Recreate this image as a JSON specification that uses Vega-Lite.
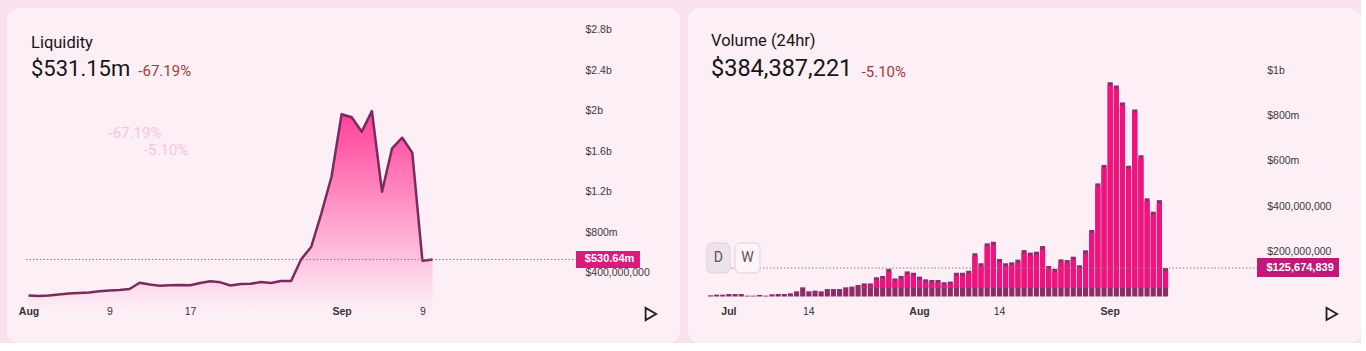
{
  "$schema": "https://vega.github.io/schema/vega-lite/v6.json",
  "background": "#f9e2ee",
  "padding": {"left": 7, "top": 8, "right": 0, "bottom": 0},
  "bounds": "flush",
  "spacing": 8,
  "config": {"view": {"stroke": null}},
  "hconcat": [
    {
      "width": 673,
      "height": 335,
      "view": {"fill": "#fdeff6", "stroke": null, "cornerRadius": 12},
      "title": {"text": "Liquidity", "subtitle": "$531.15m", "anchor": "start", "frame": "group", "dx": 24, "offset": -72,
        "font": "Roboto", "fontSize": 16.5, "fontWeight": "normal", "color": "#161616",
        "subtitleFont": "Roboto", "subtitleFontSize": 22, "subtitleColor": "#161616", "subtitlePadding": 8},
      "data": {"values": [
        {"date": "2024-08-01T00:00", "liquidity": 175000000},
        {"date": "2024-08-02T00:00", "liquidity": 170000000},
        {"date": "2024-08-03T00:00", "liquidity": 175000000},
        {"date": "2024-08-04T00:00", "liquidity": 185000000},
        {"date": "2024-08-05T00:00", "liquidity": 195000000},
        {"date": "2024-08-06T00:00", "liquidity": 200000000},
        {"date": "2024-08-07T00:00", "liquidity": 204000000},
        {"date": "2024-08-08T00:00", "liquidity": 216000000},
        {"date": "2024-08-09T00:00", "liquidity": 224000000},
        {"date": "2024-08-10T00:00", "liquidity": 229000000},
        {"date": "2024-08-11T00:00", "liquidity": 239000000},
        {"date": "2024-08-12T00:00", "liquidity": 301000000},
        {"date": "2024-08-13T00:00", "liquidity": 283000000},
        {"date": "2024-08-14T00:00", "liquidity": 272000000},
        {"date": "2024-08-15T00:00", "liquidity": 276000000},
        {"date": "2024-08-16T00:00", "liquidity": 279000000},
        {"date": "2024-08-17T00:00", "liquidity": 276000000},
        {"date": "2024-08-18T00:00", "liquidity": 298000000},
        {"date": "2024-08-19T00:00", "liquidity": 315000000},
        {"date": "2024-08-20T00:00", "liquidity": 305000000},
        {"date": "2024-08-21T00:00", "liquidity": 274000000},
        {"date": "2024-08-22T00:00", "liquidity": 288000000},
        {"date": "2024-08-23T00:00", "liquidity": 290000000},
        {"date": "2024-08-24T00:00", "liquidity": 308000000},
        {"date": "2024-08-25T00:00", "liquidity": 298000000},
        {"date": "2024-08-26T00:00", "liquidity": 318000000},
        {"date": "2024-08-27T00:00", "liquidity": 318000000},
        {"date": "2024-08-28T00:00", "liquidity": 532000000},
        {"date": "2024-08-29T00:00", "liquidity": 657000000},
        {"date": "2024-08-30T00:00", "liquidity": 987000000},
        {"date": "2024-08-31T00:00", "liquidity": 1348000000},
        {"date": "2024-09-01T00:00", "liquidity": 1965000000},
        {"date": "2024-09-02T00:00", "liquidity": 1935000000},
        {"date": "2024-09-03T00:00", "liquidity": 1793000000},
        {"date": "2024-09-04T00:00", "liquidity": 1997000000},
        {"date": "2024-09-05T00:00", "liquidity": 1200000000},
        {"date": "2024-09-06T00:00", "liquidity": 1629000000},
        {"date": "2024-09-07T00:00", "liquidity": 1733000000},
        {"date": "2024-09-08T00:00", "liquidity": 1585000000},
        {"date": "2024-09-09T00:00", "liquidity": 519000000},
        {"date": "2024-09-10T00:00", "liquidity": 531150000}
      ]},
      "layer": [
        {
          "mark": {"type": "area", "fill": {"gradient": "linear", "x1": 0, "y1": 0, "x2": 0, "y2": 1,
            "stops": [{"offset": 0, "color": "#ff3f98"}, {"offset": 0.55, "color": "#ffa3cd"}, {"offset": 0.93, "color": "#fde6f1"}, {"offset": 1, "color": "#fdeff6"}]}},
          "encoding": {
            "x": {"field": "date", "type": "temporal",
              "scale": {"domain": [{"year": 2024, "month": 8, "date": 1}, {"year": 2024, "month": 9, "date": 10}], "range": [21.5, 425.5], "nice": false},
              "axis": {"title": null, "domain": false, "ticks": false, "grid": false, "labelPadding": 0, "offset": -37, "labelFlush": false, "labelOverlap": false, "zindex": 1,
                "values": [{"year": 2024, "month": 8, "date": 1}, {"year": 2024, "month": 8, "date": 9}, {"year": 2024, "month": 8, "date": 17}, {"year": 2024, "month": 9, "date": 1}, {"year": 2024, "month": 9, "date": 9}],
                "labelExpr": "date(datum.value) == 1 ? timeFormat(datum.value, '%b') : timeFormat(datum.value, '%-d')",
                "labelFontWeight": {"condition": {"test": "date(datum.value) == 1", "value": "bold"}, "value": "normal"},
                "labelFont": "Liberation Sans", "labelFontSize": 10.5, "labelColor": "#333333"}},
            "y": {"field": "liquidity", "type": "quantitative",
              "scale": {"domain": [0, 2800000000], "range": [305.2, 21.7], "nice": false, "zero": false},
              "axis": {"orient": "right", "title": null, "domain": false, "ticks": false, "grid": false, "labelPadding": 0, "offset": -95, "zindex": 1,
                "values": [400000000, 800000000, 1200000000, 1600000000, 2000000000, 2400000000, 2800000000],
                "labelExpr": "datum.value == 400000000 ? '$400,000,000' : datum.value >= 1000000000 ? '$' + format(datum.value / 1000000000, '~g') + 'b' : '$' + format(datum.value / 1000000, '~g') + 'm'",
                "labelFont": "Liberation Sans", "labelFontSize": 10.5, "labelColor": "#3a3a3a", "labelAlign": "left", "labelBaseline": "middle"}},
            "y2": {"datum": 0}
          }
        },
        {
          "mark": {"type": "line", "color": "#7a2b5d", "strokeWidth": 2.5, "strokeJoin": "round"},
          "encoding": {
            "x": {"field": "date", "type": "temporal"},
            "y": {"field": "liquidity", "type": "quantitative"}
          }
        },
        {
          "data": {"values": [{"value": 530640000}]},
          "mark": {"type": "rule", "color": "#8c7c86", "strokeDash": [1.5, 2], "strokeWidth": 1},
          "encoding": {
            "x": {"datum": {"year": 2024, "month": 7, "date": 31, "hours": 18}, "type": "temporal"},
            "x2": {"datum": {"year": 2024, "month": 9, "date": 24, "hours": 5}},
            "y": {"field": "value", "type": "quantitative"}
          }
        },
        {
          "data": {"values": [{"value": 530640000}]},
          "mark": {"type": "rect", "color": "#d81b7d"},
          "encoding": {
            "x": {"datum": {"year": 2024, "month": 9, "date": 24, "hours": 5}, "type": "temporal"},
            "x2": {"datum": {"year": 2024, "month": 9, "date": 30, "hours": 13}},
            "y": {"datum": 614000000, "type": "quantitative"},
            "y2": {"datum": 446000000}
          }
        },
        {
          "data": {"values": [{"label": "$530.64m", "value": 530640000}]},
          "mark": {"type": "text", "color": "#ffffff", "font": "Liberation Sans", "fontSize": 11, "fontWeight": "bold", "align": "left", "baseline": "middle"},
          "encoding": {
            "x": {"datum": {"year": 2024, "month": 9, "date": 25, "hours": 2}, "type": "temporal"},
            "y": {"field": "value", "type": "quantitative"},
            "text": {"field": "label"}
          }
        },
        {
          "data": {"values": [{"label": "-67.19%"}]},
          "mark": {"type": "text", "color": "#a83a33", "font": "Roboto", "fontSize": 15, "align": "left", "baseline": "alphabetic"},
          "encoding": {
            "x": {"datum": {"year": 2024, "month": 8, "date": 11, "hours": 21}, "type": "temporal"},
            "y": {"datum": 2338000000, "type": "quantitative"},
            "text": {"field": "label"}
          }
        },
        {
          "data": {"values": [{"label": "-67.19%"}]},
          "mark": {"type": "text", "color": "#f8c3de", "font": "Roboto", "fontSize": 15, "align": "center", "baseline": "middle"},
          "encoding": {
            "x": {"datum": {"year": 2024, "month": 8, "date": 11, "hours": 13}, "type": "temporal"},
            "y": {"datum": 1780000000, "type": "quantitative"},
            "text": {"field": "label"}
          }
        },
        {
          "data": {"values": [{"label": "-5.10%"}]},
          "mark": {"type": "text", "color": "#f8c3de", "font": "Roboto", "fontSize": 15, "align": "center", "baseline": "middle"},
          "encoding": {
            "x": {"datum": {"year": 2024, "month": 8, "date": 14, "hours": 15}, "type": "temporal"},
            "y": {"datum": 1612000000, "type": "quantitative"},
            "text": {"field": "label"}
          }
        },
        {
          "data": {"values": [{"icon": "play"}]},
          "mark": {"type": "point", "shape": "triangle-right", "filled": false, "color": "#1f1f1f", "strokeWidth": 1.8, "size": 150, "opacity": 1},
          "encoding": {
            "x": {"datum": {"year": 2024, "month": 10, "date": 1, "hours": 15}, "type": "temporal"},
            "y": {"datum": -8000000, "type": "quantitative"}
          }
        }
      ]
    },
    {
      "width": 673,
      "height": 335,
      "view": {"fill": "#fdeff6", "stroke": null, "cornerRadius": 12},
      "title": {"text": "Volume (24hr)", "subtitle": "$384,387,221", "anchor": "start", "frame": "group", "dx": 23, "offset": -72,
        "font": "Roboto", "fontSize": 16.5, "fontWeight": "normal", "color": "#161616",
        "subtitleFont": "Roboto", "subtitleFontSize": 23.5, "subtitleColor": "#161616", "subtitlePadding": 7},
      "data": {"values": [
        {"date": "2024-06-28T00:00", "volume": 5200000},
        {"date": "2024-06-29T00:00", "volume": 8100000},
        {"date": "2024-06-30T00:00", "volume": 8100000},
        {"date": "2024-07-01T00:00", "volume": 11000000},
        {"date": "2024-07-02T00:00", "volume": 11000000},
        {"date": "2024-07-03T00:00", "volume": 11000000},
        {"date": "2024-07-04T00:00", "volume": 3700000},
        {"date": "2024-07-05T00:00", "volume": 3700000},
        {"date": "2024-07-06T00:00", "volume": 6600000},
        {"date": "2024-07-07T00:00", "volume": 3700000},
        {"date": "2024-07-08T00:00", "volume": 9600000},
        {"date": "2024-07-09T00:00", "volume": 11000000},
        {"date": "2024-07-10T00:00", "volume": 11000000},
        {"date": "2024-07-11T00:00", "volume": 14000000},
        {"date": "2024-07-12T00:00", "volume": 22800000},
        {"date": "2024-07-13T00:00", "volume": 40500000},
        {"date": "2024-07-14T00:00", "volume": 22800000},
        {"date": "2024-07-15T00:00", "volume": 25800000},
        {"date": "2024-07-16T00:00", "volume": 22800000},
        {"date": "2024-07-17T00:00", "volume": 33000000},
        {"date": "2024-07-18T00:00", "volume": 33000000},
        {"date": "2024-07-19T00:00", "volume": 33000000},
        {"date": "2024-07-20T00:00", "volume": 40500000},
        {"date": "2024-07-21T00:00", "volume": 43500000},
        {"date": "2024-07-22T00:00", "volume": 50800000},
        {"date": "2024-07-23T00:00", "volume": 58000000},
        {"date": "2024-07-24T00:00", "volume": 58000000},
        {"date": "2024-07-25T00:00", "volume": 85000000},
        {"date": "2024-07-26T00:00", "volume": 91000000},
        {"date": "2024-07-27T00:00", "volume": 122000000},
        {"date": "2024-07-28T00:00", "volume": 80000000},
        {"date": "2024-07-29T00:00", "volume": 91000000},
        {"date": "2024-07-30T00:00", "volume": 111000000},
        {"date": "2024-07-31T00:00", "volume": 105000000},
        {"date": "2024-08-01T00:00", "volume": 88000000},
        {"date": "2024-08-02T00:00", "volume": 76000000},
        {"date": "2024-08-03T00:00", "volume": 73000000},
        {"date": "2024-08-04T00:00", "volume": 73000000},
        {"date": "2024-08-05T00:00", "volume": 63000000},
        {"date": "2024-08-06T00:00", "volume": 66000000},
        {"date": "2024-08-07T00:00", "volume": 105000000},
        {"date": "2024-08-08T00:00", "volume": 105000000},
        {"date": "2024-08-09T00:00", "volume": 114000000},
        {"date": "2024-08-10T00:00", "volume": 191000000},
        {"date": "2024-08-11T00:00", "volume": 147000000},
        {"date": "2024-08-12T00:00", "volume": 235000000},
        {"date": "2024-08-13T00:00", "volume": 242000000},
        {"date": "2024-08-14T00:00", "volume": 166000000},
        {"date": "2024-08-15T00:00", "volume": 147000000},
        {"date": "2024-08-16T00:00", "volume": 151000000},
        {"date": "2024-08-17T00:00", "volume": 163000000},
        {"date": "2024-08-18T00:00", "volume": 205000000},
        {"date": "2024-08-19T00:00", "volume": 194000000},
        {"date": "2024-08-20T00:00", "volume": 198000000},
        {"date": "2024-08-21T00:00", "volume": 223000000},
        {"date": "2024-08-22T00:00", "volume": 135000000},
        {"date": "2024-08-23T00:00", "volume": 122000000},
        {"date": "2024-08-24T00:00", "volume": 164000000},
        {"date": "2024-08-25T00:00", "volume": 161000000},
        {"date": "2024-08-26T00:00", "volume": 176000000},
        {"date": "2024-08-27T00:00", "volume": 138000000},
        {"date": "2024-08-28T00:00", "volume": 204000000},
        {"date": "2024-08-29T00:00", "volume": 294000000},
        {"date": "2024-08-30T00:00", "volume": 500000000},
        {"date": "2024-08-31T00:00", "volume": 581000000},
        {"date": "2024-09-01T00:00", "volume": 947000000},
        {"date": "2024-09-02T00:00", "volume": 933000000},
        {"date": "2024-09-03T00:00", "volume": 858000000},
        {"date": "2024-09-04T00:00", "volume": 578000000},
        {"date": "2024-09-05T00:00", "volume": 827000000},
        {"date": "2024-09-06T00:00", "volume": 625000000},
        {"date": "2024-09-07T00:00", "volume": 434000000},
        {"date": "2024-09-08T00:00", "volume": 375000000},
        {"date": "2024-09-09T00:00", "volume": 426000000},
        {"date": "2024-09-10T00:00", "volume": 125674839}
      ]},
      "layer": [
        {
          "mark": {"type": "bar", "color": "#8e2c69"},
          "encoding": {
            "x": {"field": "date", "type": "temporal", "timeUnit": "yearmonthdate",
              "scale": {"domain": [{"year": 2024, "month": 6, "date": 28}, {"year": 2024, "month": 9, "date": 11}], "range": [18.9, 480.1], "nice": false},
              "axis": {"title": null, "domain": false, "ticks": false, "grid": false, "labelPadding": 0, "offset": -37, "labelFlush": false, "labelOverlap": false, "zindex": 1,
                "values": [{"year": 2024, "month": 7, "date": 1, "hours": 12}, {"year": 2024, "month": 7, "date": 14, "hours": 12}, {"year": 2024, "month": 8, "date": 1, "hours": 12}, {"year": 2024, "month": 8, "date": 14, "hours": 12}, {"year": 2024, "month": 9, "date": 1, "hours": 12}],
                "labelExpr": "date(datum.value) == 1 ? timeFormat(datum.value, '%b') : timeFormat(datum.value, '%-d')",
                "labelFontWeight": {"condition": {"test": "date(datum.value) == 1", "value": "bold"}, "value": "normal"},
                "labelFont": "Liberation Sans", "labelFontSize": 10.5, "labelColor": "#333333"}},
            "y": {"field": "volume", "type": "quantitative",
              "scale": {"domain": [0, 1000000000], "range": [288.5, 62.3], "nice": false, "zero": false},
              "axis": {"orient": "right", "title": null, "domain": false, "ticks": false, "grid": false, "labelPadding": 0, "offset": -94.3, "zindex": 1,
                "values": [200000000, 400000000, 600000000, 800000000, 1000000000],
                "labelExpr": "datum.value <= 400000000 ? '$' + format(datum.value, ',') : datum.value >= 1000000000 ? '$' + format(datum.value / 1000000000, '~g') + 'b' : '$' + format(datum.value / 1000000, '~g') + 'm'",
                "labelFont": "Liberation Sans", "labelFontSize": 10.5, "labelColor": "#3a3a3a", "labelAlign": "left", "labelBaseline": "middle"}}
          }
        },
        {
          "transform": [{"filter": "datum.volume > 45000000"}],
          "mark": {"type": "bar", "color": "#f2127f", "yOffset": 3},
          "encoding": {
            "x": {"field": "date", "type": "temporal", "timeUnit": "yearmonthdate"},
            "y": {"field": "volume", "type": "quantitative"},
            "y2": {"datum": 38000000}
          }
        },
        {
          "data": {"values": [{"value": 125674839}]},
          "mark": {"type": "rule", "color": "#8c7c86", "strokeDash": [1.5, 2], "strokeWidth": 1},
          "encoding": {
            "x": {"datum": {"year": 2024, "month": 6, "date": 28}, "type": "temporal"},
            "x2": {"datum": {"year": 2024, "month": 9, "date": 25, "hours": 11}},
            "y": {"field": "value", "type": "quantitative"}
          }
        },
        {
          "data": {"values": [{"label": "D"}]},
          "layer": [
            {
              "mark": {"type": "rect", "color": "#efe3eb", "stroke": "#e0d0da", "strokeWidth": 1, "cornerRadius": 5},
              "encoding": {
                "x": {"datum": {"year": 2024, "month": 6, "date": 28}, "type": "temporal"},
                "x2": {"datum": {"year": 2024, "month": 7, "date": 1, "hours": 18}},
                "y": {"datum": 236500000, "type": "quantitative"},
                "y2": {"datum": 103900000}
              }
            },
            {
              "mark": {"type": "text", "color": "#555555", "font": "Roboto", "fontSize": 14, "align": "center", "baseline": "middle"},
              "encoding": {
                "x": {"datum": {"year": 2024, "month": 6, "date": 29, "hours": 21}, "type": "temporal"},
                "y": {"datum": 170200000, "type": "quantitative"},
                "text": {"field": "label"}
              }
            }
          ]
        },
        {
          "data": {"values": [{"label": "W"}]},
          "layer": [
            {
              "mark": {"type": "rect", "color": "#fdf4f8", "stroke": "#e0d0da", "strokeWidth": 1, "cornerRadius": 5},
              "encoding": {
                "x": {"datum": {"year": 2024, "month": 7, "date": 2, "hours": 14}, "type": "temporal"},
                "x2": {"datum": {"year": 2024, "month": 7, "date": 6, "hours": 15}},
                "y": {"datum": 236500000, "type": "quantitative"},
                "y2": {"datum": 103900000}
              }
            },
            {
              "mark": {"type": "text", "color": "#555555", "font": "Roboto", "fontSize": 14, "align": "center", "baseline": "middle"},
              "encoding": {
                "x": {"datum": {"year": 2024, "month": 7, "date": 4, "hours": 14}, "type": "temporal"},
                "y": {"datum": 170200000, "type": "quantitative"},
                "text": {"field": "label"}
              }
            }
          ]
        },
        {
          "data": {"values": [{"value": 125674839}]},
          "mark": {"type": "rect", "color": "#c2187a"},
          "encoding": {
            "x": {"datum": {"year": 2024, "month": 9, "date": 25, "hours": 11}, "type": "temporal"},
            "x2": {"datum": {"year": 2024, "month": 10, "date": 8, "hours": 19}},
            "y": {"datum": 170200000, "type": "quantitative"},
            "y2": {"datum": 86200000}
          }
        },
        {
          "data": {"values": [{"label": "$125,674,839", "value": 125674839}]},
          "mark": {"type": "text", "color": "#ffffff", "font": "Liberation Sans", "fontSize": 11, "fontWeight": "bold", "align": "left", "baseline": "middle"},
          "encoding": {
            "x": {"datum": {"year": 2024, "month": 9, "date": 27}, "type": "temporal"},
            "y": {"field": "value", "type": "quantitative"},
            "text": {"field": "label"}
          }
        },
        {
          "data": {"values": [{"label": "-5.10%"}]},
          "mark": {"type": "text", "color": "#a83a33", "font": "Roboto", "fontSize": 15, "align": "left", "baseline": "alphabetic"},
          "encoding": {
            "x": {"datum": {"year": 2024, "month": 7, "date": 23, "hours": 4}, "type": "temporal"},
            "y": {"datum": 970000000, "type": "quantitative"},
            "text": {"field": "label"}
          }
        },
        {
          "data": {"values": [{"icon": "play"}]},
          "mark": {"type": "point", "shape": "triangle-right", "filled": false, "color": "#1f1f1f", "strokeWidth": 1.8, "size": 150, "opacity": 1},
          "encoding": {
            "x": {"datum": {"year": 2024, "month": 10, "date": 7, "hours": 15}, "type": "temporal"},
            "y": {"datum": -77000000, "type": "quantitative"}
          }
        }
      ]
    }
  ]
}
